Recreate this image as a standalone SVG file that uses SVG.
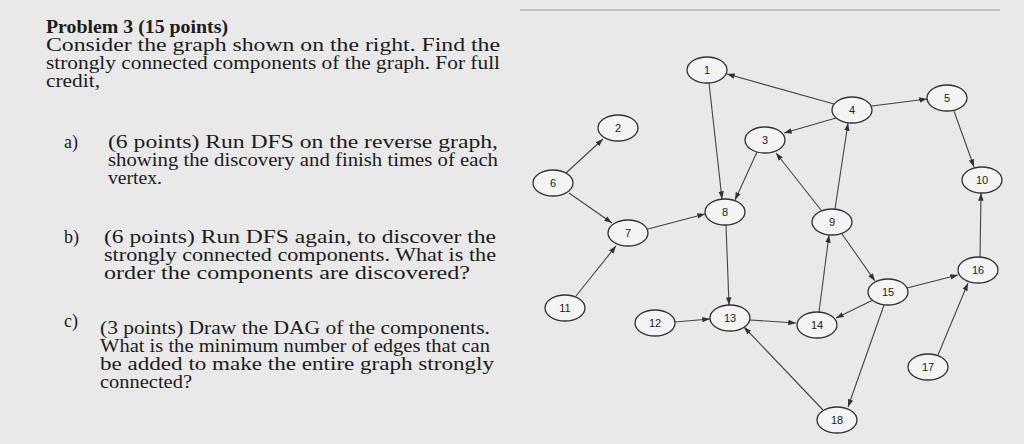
<svg xmlns="http://www.w3.org/2000/svg" width="1024" height="444" viewBox="0 0 1024 444">
<style>
.t{font-family:"Liberation Serif",serif;font-size:18px;fill:#1c1c1c}
.n ellipse{fill:#f4f4f4;stroke:#333;stroke-width:1.3}
.n text{font-family:"Liberation Sans",sans-serif;font-size:11px;fill:#222;text-anchor:middle}
#edges line{stroke:#444;stroke-width:1.1;marker-end:url(#a)}
</style>
<defs><marker id="a" viewBox="0 0 10 10" refX="10" refY="5" markerWidth="7" markerHeight="7" orient="auto"><path d="M0,1.5L10,5L0,8.5z" fill="#333"/></marker></defs>
<rect width="1024" height="444" fill="#e9e9e9"/>
<line x1="520" y1="10" x2="1000" y2="10" stroke="#999" stroke-width="1"/>
<g class="t" lengthAdjust="spacingAndGlyphs">
<text x="46" y="33" font-weight="bold" textLength="182" lengthAdjust="spacingAndGlyphs">Problem 3 (15 points)</text>
<text x="46" y="51" textLength="454" lengthAdjust="spacingAndGlyphs">Consider the graph shown on the right. Find the</text>
<text x="46" y="69" textLength="454" lengthAdjust="spacingAndGlyphs">strongly connected components of the graph. For full</text>
<text x="46" y="87" textLength="54" lengthAdjust="spacingAndGlyphs">credit,</text>
<text x="64" y="148">a)</text>
<text x="108" y="148" textLength="390" lengthAdjust="spacingAndGlyphs">(6 points) Run DFS on the reverse graph,</text>
<text x="108" y="166" textLength="390" lengthAdjust="spacingAndGlyphs">showing the discovery and finish times of each</text>
<text x="108" y="184" textLength="54" lengthAdjust="spacingAndGlyphs">vertex.</text>
<text x="64" y="243">b)</text>
<text x="104" y="243" textLength="392" lengthAdjust="spacingAndGlyphs">(6 points) Run DFS again, to discover the</text>
<text x="104" y="261" textLength="392" lengthAdjust="spacingAndGlyphs">strongly connected components. What is the</text>
<text x="104" y="279" textLength="366" lengthAdjust="spacingAndGlyphs">order the components are discovered?</text>
<text x="64" y="327">c)</text>
<text x="100" y="334" textLength="390" lengthAdjust="spacingAndGlyphs">(3 points) Draw the DAG of the components.</text>
<text x="100" y="352" textLength="390" lengthAdjust="spacingAndGlyphs">What is the minimum number of edges that can</text>
<text x="100" y="370" textLength="394" lengthAdjust="spacingAndGlyphs">be added to make the entire graph strongly</text>
<text x="100" y="388" textLength="92" lengthAdjust="spacingAndGlyphs">connected?</text>
</g>
<g id="edges">
<line x1="834" y1="104" x2="727" y2="74"/>
<line x1="872" y1="106" x2="927" y2="99"/>
<line x1="836" y1="118" x2="784" y2="133"/>
<line x1="709" y1="83" x2="722" y2="199"/>
<line x1="757" y1="152" x2="735" y2="200"/>
<line x1="821" y1="210" x2="776" y2="153"/>
<line x1="835" y1="209" x2="848" y2="123"/>
<line x1="954" y1="111" x2="974" y2="167"/>
<line x1="980" y1="257" x2="981" y2="193"/>
<line x1="566" y1="173" x2="603" y2="139"/>
<line x1="569" y1="193" x2="612" y2="223"/>
<line x1="648" y1="229" x2="705" y2="214"/>
<line x1="576" y1="296" x2="616" y2="246"/>
<line x1="726" y1="225" x2="729" y2="305"/>
<line x1="675" y1="322" x2="710" y2="319"/>
<line x1="750" y1="320" x2="796" y2="323"/>
<line x1="819" y1="312" x2="829" y2="235"/>
<line x1="842" y1="234" x2="875" y2="281"/>
<line x1="907" y1="288" x2="958" y2="275"/>
<line x1="873" y1="300" x2="836" y2="318"/>
<line x1="884" y1="305" x2="848" y2="407"/>
<line x1="823" y1="410" x2="744" y2="327"/>
<line x1="938" y1="355" x2="968" y2="283"/>
</g>
<g id="n1" class="n"><ellipse cx="707" cy="70" rx="20" ry="13"/><text x="707" y="74">1</text></g>
<g id="n2" class="n"><ellipse cx="618" cy="128" rx="20" ry="13"/><text x="618" y="132">2</text></g>
<g id="n3" class="n"><ellipse cx="765" cy="140" rx="20" ry="13"/><text x="765" y="144">3</text></g>
<g id="n4" class="n"><ellipse cx="852" cy="110" rx="20" ry="13"/><text x="852" y="114">4</text></g>
<g id="n5" class="n"><ellipse cx="947" cy="98" rx="20" ry="13"/><text x="947" y="102">5</text></g>
<g id="n6" class="n"><ellipse cx="553" cy="183" rx="20" ry="13"/><text x="553" y="187">6</text></g>
<g id="n7" class="n"><ellipse cx="628" cy="233" rx="20" ry="13"/><text x="628" y="237">7</text></g>
<g id="n8" class="n"><ellipse cx="725" cy="212" rx="20" ry="13"/><text x="725" y="216">8</text></g>
<g id="n9" class="n"><ellipse cx="832" cy="222" rx="20" ry="13"/><text x="832" y="226">9</text></g>
<g id="n10" class="n"><ellipse cx="982" cy="180" rx="20" ry="13"/><text x="982" y="184">10</text></g>
<g id="n11" class="n"><ellipse cx="565" cy="308" rx="20" ry="13"/><text x="565" y="312">11</text></g>
<g id="n12" class="n"><ellipse cx="655" cy="323" rx="20" ry="13"/><text x="655" y="327">12</text></g>
<g id="n13" class="n"><ellipse cx="730" cy="318" rx="20" ry="13"/><text x="730" y="322">13</text></g>
<g id="n14" class="n"><ellipse cx="817" cy="325" rx="20" ry="13"/><text x="817" y="329">14</text></g>
<g id="n15" class="n"><ellipse cx="888" cy="292" rx="20" ry="13"/><text x="888" y="296">15</text></g>
<g id="n16" class="n"><ellipse cx="978" cy="270" rx="20" ry="13"/><text x="978" y="274">16</text></g>
<g id="n17" class="n"><ellipse cx="928" cy="367" rx="20" ry="13"/><text x="928" y="371">17</text></g>
<g id="n18" class="n"><ellipse cx="837" cy="420" rx="20" ry="13"/><text x="837" y="424">18</text></g>
</svg>
